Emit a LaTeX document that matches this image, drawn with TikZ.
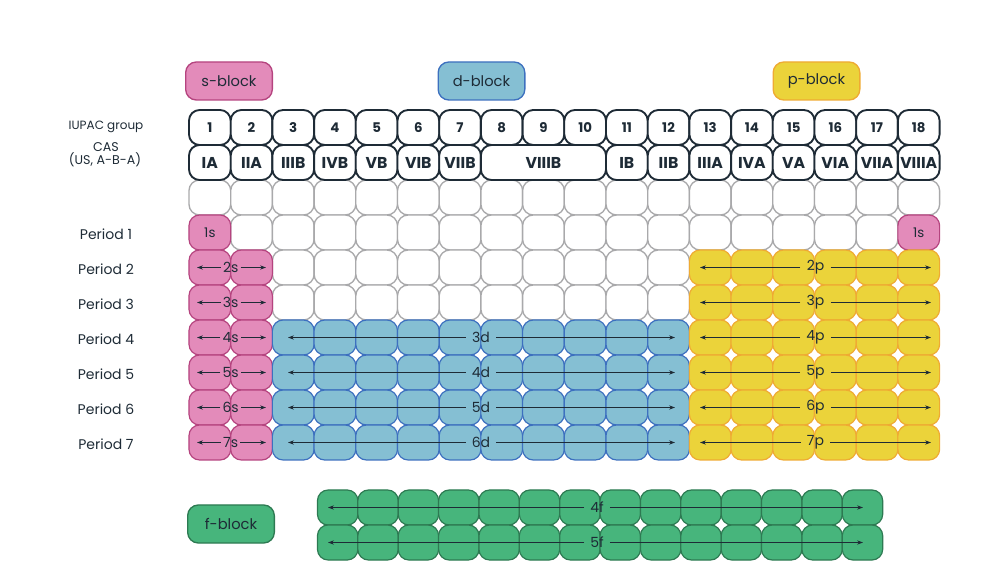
\documentclass[tikz,border=0pt]{standalone}
\usepackage{fontspec}
\setmainfont{Poppins}
\usetikzlibrary{arrows.meta}
\usepackage{xcolor}
\definecolor{ink}{HTML}{1E2B36}
\definecolor{gline}{HTML}{A9A9AB}
\definecolor{sfill}{HTML}{E38BBA}
\definecolor{sline}{HTML}{B5447F}
\definecolor{dfill}{HTML}{85BFD3}
\definecolor{dline}{HTML}{3D70BF}
\definecolor{pfill}{HTML}{EBD33A}
\definecolor{pline}{HTML}{EFAA33}
\definecolor{ffill}{HTML}{47B57C}
\definecolor{fline}{HTML}{2D7A52}

\tikzset{
  cell/.style={rounded corners=8pt, minimum width=31.3pt, minimum height=26.25pt, inner sep=0pt, outer sep=0pt},
  head/.style={cell, draw=ink, line width=1.4pt, fill=white, text=ink, font=\bfseries\fontsize{10}{11}\selectfont},
  cas/.style={head, font=\bfseries\fontsize{11.8}{12}\selectfont},
  blank/.style={cell, draw=gline, line width=1pt, fill=white},
  scell/.style={cell, draw=sline, fill=sfill, line width=0.9pt, text=ink, font=\fontsize{10}{11}\selectfont},
  dcell/.style={cell, draw=dline, fill=dfill, line width=0.9pt},
  pcell/.style={cell, draw=pline, fill=pfill, line width=0.9pt},
  fcell/.style={cell, draw=fline, fill=ffill, line width=0.9pt, minimum width=30.3pt},
  orb/.style={text=ink, inner sep=4.5pt, font=\fontsize{10.5}{11}\selectfont},
  orbarrow/.style={-{Stealth[length=4.5pt,width=3.2pt]}, draw=ink, line width=0.6pt},
  blocklabel/.style={rounded corners=8pt, minimum width=65pt, minimum height=28.5pt, line width=1pt, text=ink, font=\fontsize{11}{12}\selectfont},
  side/.style={text=ink, font=\fontsize{10.5}{11}\selectfont, align=center}
}

\begin{document}
\begin{tikzpicture}[x=0.75pt,y=-0.75pt]
\useasboundingbox (0,0) rectangle (1000,584);

\node[side, font=\fontsize{9}{10}\selectfont] (iupac) at (106,127) {IUPAC group};
\node[side, font=\fontsize{9.5}{10}\selectfont] (cas) at (106,147) {CAS};
\node[side, font=\fontsize{9.5}{10}\selectfont] (casus) at (105,160) {(US, A-B-A)};
\foreach \n in {1,...,7} {\node[side] (per\n) at (106,199+35*\n) {Period \n};}

\node[blocklabel, draw=sline, fill=sfill] (sblock) at (229,81) {s-block};
\node[blocklabel, draw=dline, fill=dfill] (dblock) at (481.5,81) {d-block};
\node[blocklabel, draw=pline, fill=pfill] (pblock) at (816.5,81) {p-block};
\node[blocklabel, draw=fline, fill=ffill] (fblock) at (231,524) {f-block};

\foreach \c in {1,...,18} {\node[blank] (e-\c) at (168.15+41.7*\c,197.5) {};}
\foreach \c in {2,...,17} {\node[blank] (p1-\c) at (168.15+41.7*\c,232.5) {};}
\foreach \r in {2,3} {\foreach \c in {3,...,12} {\node[blank] (p\r-\c) at (168.15+41.7*\c,197.5+35*\r) {};}}

\node[scell] (h1) at (209.85,232.5) {1s};
\node[scell] (he) at (918.75,232.5) {1s};
\foreach \r in {2,...,7} {\foreach \c in {1,2} {\node[scell] (s\r-\c) at (168.15+41.7*\c,197.5+35*\r) {};}}
\foreach \r in {4,...,7} {\foreach \c in {3,...,12} {\node[dcell] (d\r-\c) at (168.15+41.7*\c,197.5+35*\r) {};}}
\foreach \r in {2,...,7} {\foreach \c in {13,...,18} {\node[pcell] (p\r-\c) at (168.15+41.7*\c,197.5+35*\r) {};}}
\foreach \r in {4,5} {\foreach \c in {1,...,14} {\node[fcell] (f\r-\c) at (297.3+40.37*\c,367.5+35*\r) {};}}

\foreach \c in {1,...,18} {\node[head] (g\c) at (168.15+41.7*\c,127.5) {\c};}
\foreach \c/\t in {1/IA,2/IIA,3/IIIB,4/IVB,5/VB,6/VIB,7/VIIB,11/IB,12/IIB,13/IIIA,14/IVA,15/VA,16/VIA,17/VIIA,18/VIIIA}
  {\node[cas] (cas\c) at (168.15+41.7*\c,162.5) {\t};}
\node[cas, minimum width=93.9pt] (cas8) at (543.45,162.5) {VIIIB};

\foreach \n in {2,...,7} {
  \node[orb, inner sep=1.5pt] (sl\n) at (230.7,197.5+35*\n) {\n s};
  \coordinate (sa\n) at (197,197.5+35*\n);
  \coordinate (sb\n) at (266,197.5+35*\n);
  \draw[orbarrow] (sl\n) -- (sa\n);
  \draw[orbarrow] (sl\n) -- (sb\n);
  \node[orb] (pl\n) at (815.5,197.5+35*\n) {\n p};
  \coordinate (pa\n) at (700,197.5+35*\n);
  \coordinate (pb\n) at (931,197.5+35*\n);
  \draw[orbarrow] (pl\n) -- (pa\n);
  \draw[orbarrow] (pl\n) -- (pb\n);
}
\foreach \n in {3,...,6} {
  \node[orb] (dl\n) at (481,232.5+35*\n) {\n d};
  \coordinate (da\n) at (288,232.5+35*\n);
  \coordinate (db\n) at (675,232.5+35*\n);
  \draw[orbarrow] (dl\n) -- (da\n);
  \draw[orbarrow] (dl\n) -- (db\n);
}
\foreach \n in {4,5} {
  \node[orb] (fl\n) at (597,367.5+35*\n) {\n f};
  \coordinate (fa\n) at (328,367.5+35*\n);
  \coordinate (fb\n) at (863,367.5+35*\n);
  \draw[orbarrow] (fl\n) -- (fa\n);
  \draw[orbarrow] (fl\n) -- (fb\n);
}
\end{tikzpicture}
\end{document}
